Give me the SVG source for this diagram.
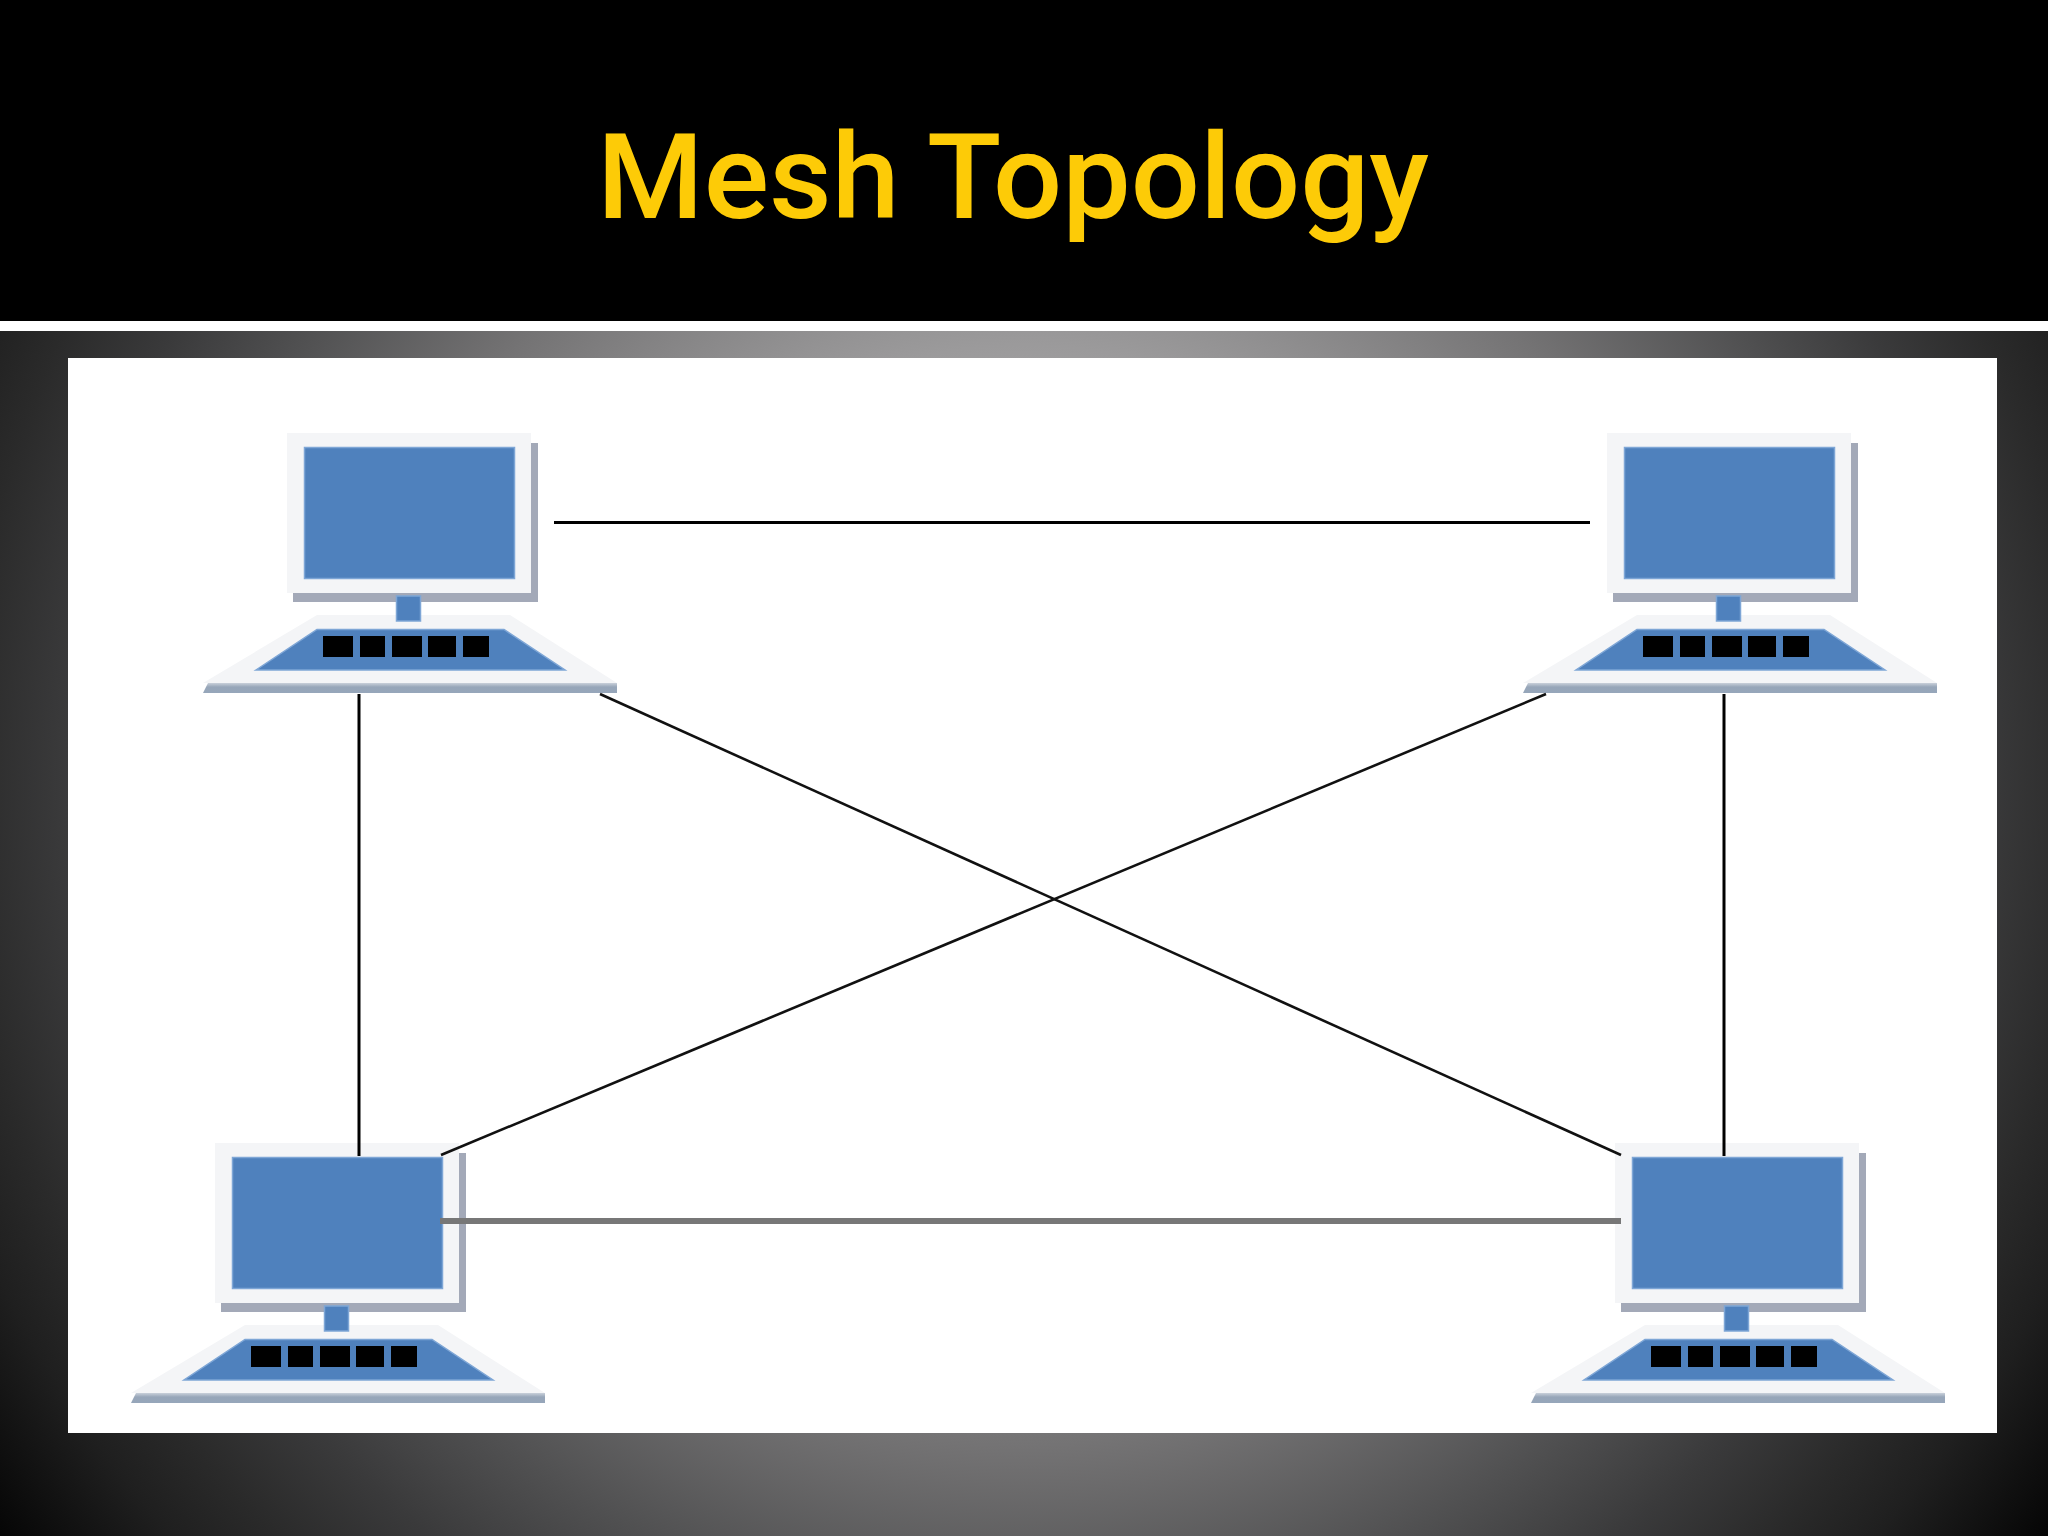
<svg xmlns="http://www.w3.org/2000/svg" width="2048" height="1536" viewBox="0 0 2048 1536">
<style>
.line{stroke:#000;stroke-width:3;fill:none}
.thin{stroke:#111;stroke-width:2.600;fill:none}
.gray{stroke:#777;stroke-width:6;fill:none}
.frame{fill:#f4f5f7}
.shadow{fill:#a3a9b8}
.blue{fill:#4f81bd;stroke:#7ea6d6;stroke-width:1.500}
.key{fill:#000}
.title{font-family:"Roboto","Liberation Sans",sans-serif;font-size:118px;font-weight:500;fill:#fdcb07}
</style>
<defs>
<radialGradient id="bgGlow" gradientUnits="userSpaceOnUse" cx="1024" cy="780" r="1280">
<stop offset="0" stop-color="#d0d0d0"/>
<stop offset="0.34" stop-color="#9b9a9b"/>
<stop offset="0.52" stop-color="#747374"/>
<stop offset="0.66" stop-color="#505051"/>
<stop offset="0.75" stop-color="#3a3a3b"/>
<stop offset="0.83" stop-color="#2a2a2a"/>
<stop offset="0.89" stop-color="#1f1f1f"/>
<stop offset="1" stop-color="#040404"/>
</radialGradient>
<linearGradient id="strip" x1="0" y1="0" x2="0" y2="1">
<stop offset="0" stop-color="#c9d0da"/><stop offset="0.4" stop-color="#97a6b9"/><stop offset="1" stop-color="#96a6ba"/>
</linearGradient>
<g id="pc">
<rect class="shadow" x="293" y="443" width="245" height="159"/>
<rect class="frame" x="287" y="433" width="244" height="160"/>
<rect class="blue" x="304.500" y="447.500" width="210" height="131"/>
<path class="frame" d="M317 615H510L617 683H203Z"/>
<path d="M208 683H617V693H203Z" fill="url(#strip)"/>
<rect class="blue" x="396.500" y="596" width="24" height="25"/>
<path class="blue" d="M317 629.500H504L565 670H256Z"/>
<rect class="key" x="323" y="636" width="30" height="21"/>
<rect class="key" x="360" y="636" width="25" height="21"/>
<rect class="key" x="392" y="636" width="30" height="21"/>
<rect class="key" x="428" y="636" width="28" height="21"/>
<rect class="key" x="463" y="636" width="26" height="21"/>
</g>
</defs>
<rect id="bg" width="2048" height="1536" fill="url(#bgGlow)"/>
<rect id="header" width="2048" height="321" fill="#000"/>
<rect id="rule" y="321" width="2048" height="10" fill="#fff"/>
<rect id="panel" x="68" y="358" width="1929" height="1075" fill="#fff"/>
<text class="title" x="597" y="218" textLength="832" lengthAdjust="spacingAndGlyphs">Mesh Topology</text>
<g id="node-top-left"><use href="#pc"/></g>
<g id="node-top-right"><use href="#pc" x="1320"/></g>
<g id="node-bottom-left"><use href="#pc" x="-72" y="710"/></g>
<g id="node-bottom-right"><use href="#pc" x="1328" y="710"/></g>
<g id="connectors">
<line class="line" x1="554" y1="522.500" x2="1590" y2="522.500"/>
<line class="line" x1="359" y1="694" x2="359" y2="1156"/>
<line class="line" x1="1724" y1="694" x2="1724" y2="1156"/>
<line class="thin" x1="600" y1="694" x2="1621" y2="1155"/>
<line class="thin" x1="1546" y1="694" x2="441" y2="1155"/>
<line class="gray" x1="440" y1="1221" x2="1621" y2="1221"/>
</g>
</svg>
